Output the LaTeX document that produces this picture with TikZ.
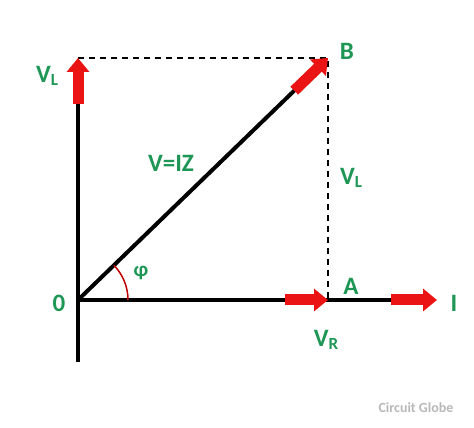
\documentclass[tikz,border=0pt]{standalone}
\usepackage{fontspec}
\setmainfont{Carlito}
\usepackage{tikz}
\usetikzlibrary{arrows.meta,calc}

\definecolor{lblgreen}{RGB}{30,150,85}
\definecolor{phasorred}{RGB}{235,20,20}
\newcommand{\lsub}[1]{\raisebox{-0.28ex}{\fontsize{17}{17}\selectfont #1}}

\begin{document}
\begin{tikzpicture}[x=1pt, y=1pt,
	lbl/.style={text=lblgreen, font=\bfseries\fontsize{25}{25}\selectfont, inner sep=0pt},
	axis/.style={line width=4pt},
	phasor/.style={draw=phasorred, line width=11pt, -{Triangle[length=14pt,width=22pt]}},
	guide/.style={dashed, line width=1.2pt, dash pattern=on 6pt off 5pt}]
	\useasboundingbox (0,0) rectangle (474,428);
	% points of the diagram
	\coordinate (O) at (78,128);
	\coordinate (A) at (328,128);
	\coordinate (B) at (328,370);
	\coordinate (ybot) at (78,66);
	\coordinate (ytop) at (78,370);
	\coordinate (xend) at (437,128);
	% axes and impedance line
	\draw[axis] (ybot) -- (78,326);
	\draw[axis] (O) -- (394,128);
	\draw[axis] (O) -- ($(O)!0.87!(B)$);
	\draw[guide] (ytop) -- (B) -- (A);
	% phasors
	\draw[phasor] (78,324) -- (ytop);
	\draw[phasor] ($(O)!0.865!(B)$) -- (B);
	\draw[phasor] (285,128) -- (A);
	\draw[phasor] (391,128) -- (xend);
	% angle
	\draw[draw=red!75!black, line width=1.5pt] ($(O)+(50,0)$) arc (0:44:50);
	% labels
	\node[lbl] (lvl) at (47,352) {V\lsub{L}};
	\node[lbl] (lb) at (347,377) {B};
	\node[lbl] (lv) at (171,265) {V=IZ};
	\node[lbl] (lvl2) at (351,250) {V\lsub{L}};
	\node[lbl, font=\bfseries\fontsize{21}{21}\selectfont] (lphi) at (141,155) {φ};
	\node[lbl] (lo) at (59,125) {0};
	\node[lbl] (la) at (351,142) {A};
	\node[lbl] (lvr) at (326,88) {V\lsub{R}};
	\node[lbl] (li) at (454,125) {I};
	\node[text=black!28, font=\bfseries\fontsize{14}{14}\selectfont] (logo) at (416,20) {Circuit Globe};
\end{tikzpicture}
\end{document}
